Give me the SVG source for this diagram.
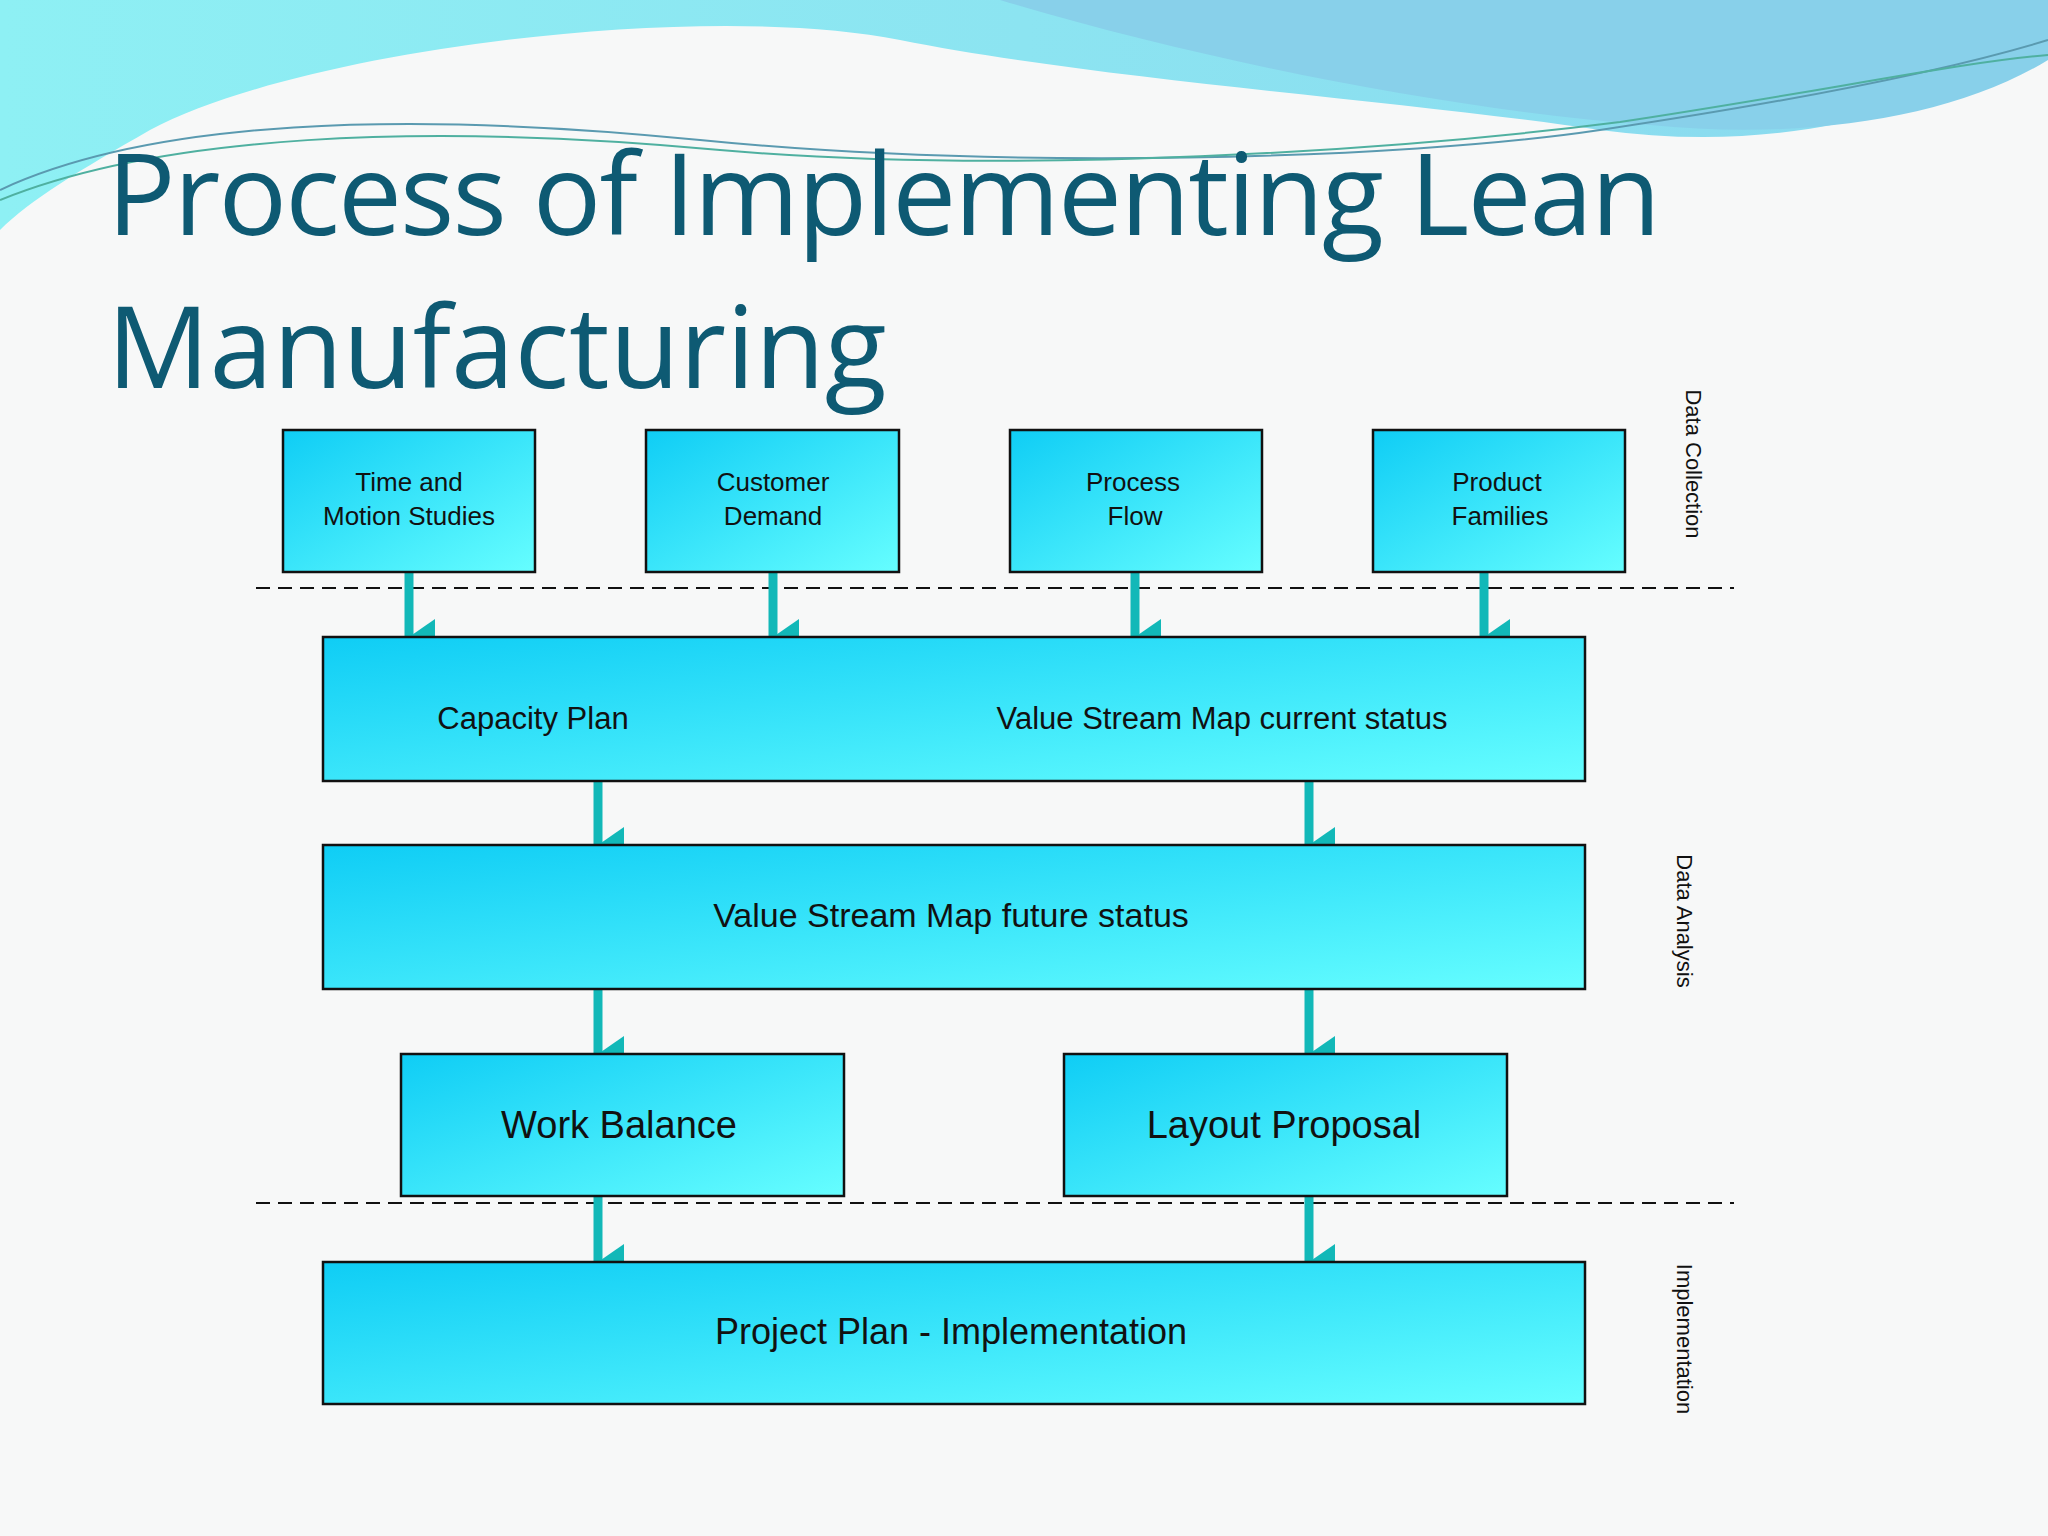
<svg xmlns="http://www.w3.org/2000/svg" width="2048" height="1536" viewBox="0 0 2048 1536">
<defs>
<linearGradient id="bx" x1="0" y1="0" x2="1" y2="1"><stop offset="0" stop-color="#0fcdf5"/><stop offset="1" stop-color="#66feff"/></linearGradient>
<linearGradient id="w1" x1="0" y1="0" x2="1" y2="0"><stop offset="0" stop-color="#8ef0f4"/><stop offset="1" stop-color="#8ad8ee"/></linearGradient>
<marker id="ah" markerWidth="36" markerHeight="26" refX="18" refY="26" orient="auto-start-reverse" markerUnits="userSpaceOnUse" viewBox="0 0 36 26"><path d="M0,0 L36,0 L18,26 Z" fill="#12b8b8"/></marker>
<style>
.box{fill:url(#bx);stroke:#111;stroke-width:2.5}
.t{font-family:"Liberation Sans",Arial,sans-serif;fill:#111;text-anchor:middle}
.side{font-family:"Liberation Sans",Arial,sans-serif;font-size:22px;fill:#111;text-anchor:middle}
.c{stroke:#12b8b8;stroke-width:9;fill:none}
.dash{stroke:#111;stroke-width:2;stroke-dasharray:14,8}
</style>
</defs>
<rect width="2048" height="1536" fill="#f7f8f8"/>
<path d="M0,0 H2048 V40 C1900,130 1750,150 1600,130 C1400,100 1100,80 900,40 C700,0 300,50 150,130 C80,170 30,200 0,230 Z" fill="url(#w1)"/>
<path d="M1000,0 H2048 V60 C1950,120 1800,140 1650,125 C1450,110 1200,60 1000,0 Z" fill="#88d0ea"/>
<path d="M0,190 C150,120 400,110 700,140 C1000,170 1400,160 1600,130 C1800,100 1950,70 2048,40" stroke="#5a9ab0" stroke-width="2" fill="none"/>
<path d="M0,200 C160,135 420,122 720,150 C1020,176 1400,150 1620,122 C1820,92 1960,62 2048,55" stroke="#4fb0a0" stroke-width="2" fill="none"/>
<text x="107" y="235" font-family="'Open Sans','Noto Sans',sans-serif" font-size="114" fill="#0e5a73" textLength="1554">Process of Implementing Lean</text>
<text x="107" y="388" font-family="'Open Sans','Noto Sans',sans-serif" font-size="114" fill="#0e5a73">Manufacturing</text>
<line class="dash" x1="256" y1="588" x2="1734" y2="588"/>
<line class="dash" x1="256" y1="1203" x2="1734" y2="1203"/>
<g id="connectors">
<line class="c" x1="409" y1="572" x2="409" y2="637" marker-end="url(#ah)"/>
<line class="c" x1="773" y1="572" x2="773" y2="637" marker-end="url(#ah)"/>
<line class="c" x1="1135" y1="572" x2="1135" y2="637" marker-end="url(#ah)"/>
<line class="c" x1="1484" y1="572" x2="1484" y2="637" marker-end="url(#ah)"/>
<line class="c" x1="598" y1="781" x2="598" y2="845" marker-end="url(#ah)"/>
<line class="c" x1="1309" y1="781" x2="1309" y2="845" marker-end="url(#ah)"/>
<line class="c" x1="598" y1="989" x2="598" y2="1054" marker-end="url(#ah)"/>
<line class="c" x1="1309" y1="989" x2="1309" y2="1054" marker-end="url(#ah)"/>
<line class="c" x1="598" y1="1196" x2="598" y2="1262" marker-end="url(#ah)"/>
<line class="c" x1="1309" y1="1196" x2="1309" y2="1262" marker-end="url(#ah)"/>
</g>
<g id="n1"><rect class="box" x="283" y="430" width="252" height="142"/><text class="t" font-size="26" x="409" y="491">Time and</text><text class="t" font-size="26" x="409" y="525">Motion Studies</text></g>
<g id="n2"><rect class="box" x="646" y="430" width="253" height="142"/><text class="t" font-size="26" x="773" y="491">Customer</text><text class="t" font-size="26" x="773" y="525">Demand</text></g>
<g id="n3"><rect class="box" x="1010" y="430" width="252" height="142"/><text class="t" font-size="26" x="1133" y="491">Process</text><text class="t" font-size="26" x="1135" y="525">Flow</text></g>
<g id="n4"><rect class="box" x="1373" y="430" width="252" height="142"/><text class="t" font-size="26" x="1497" y="491">Product</text><text class="t" font-size="26" x="1500" y="525">Families</text></g>
<g id="n5"><rect class="box" x="323" y="637" width="1262" height="144"/><text class="t" font-size="31" x="533" y="729">Capacity Plan</text><text class="t" font-size="31" x="1222" y="729">Value Stream Map current status</text></g>
<g id="n6"><rect class="box" x="323" y="845" width="1262" height="144"/><text class="t" font-size="34" x="951" y="927">Value Stream Map future status</text></g>
<g id="n7"><rect class="box" x="401" y="1054" width="443" height="142"/><text class="t" font-size="38" x="619" y="1138">Work Balance</text></g>
<g id="n8"><rect class="box" x="1064" y="1054" width="443" height="142"/><text class="t" font-size="38" x="1284" y="1138">Layout Proposal</text></g>
<g id="n9"><rect class="box" x="323" y="1262" width="1262" height="142"/><text class="t" font-size="36" x="951" y="1344">Project Plan -  Implementation</text></g>
<text class="side" transform="translate(1686,464) rotate(90)">Data Collection</text>
<text class="side" transform="translate(1677,921) rotate(90)">Data Analysis</text>
<text class="side" transform="translate(1677,1339) rotate(90)">Implementation</text>
</svg>
